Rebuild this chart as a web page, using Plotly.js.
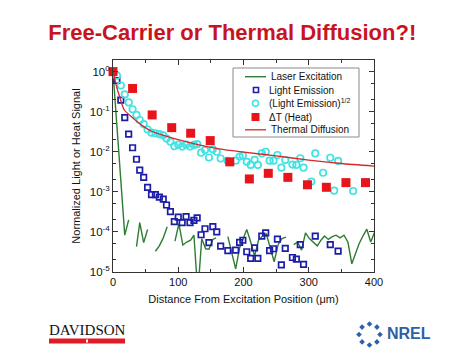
<!DOCTYPE html>
<html><head><meta charset="utf-8">
<script src="https://cdn.plot.ly/plotly-3.0.1.min.js"></script>
<style>html,body{margin:0;padding:0;background:#fff}</style>
</head><body><div id="chart" style="width:474px;height:355px"></div>
<script>
// ---- data ----
const laserX = [0,6,12,18,24,30,36,41,47,53,59,65,71,77,83,89,95,101,107,113,119,124,130,136,142,147,153,158,164,170,176,182,188,194,199,205,211,217,223,229,235,241,247,253,259,265,271,277,283,289,295,301,307,313,319,324,330,336,342,348,354,360,366,372,377,383,389,395,401];
const laserY = [1,0.045,0.002,8.3e-5,2.0e-4,null,4.3e-5,1.7e-4,5.4e-5,1.15e-4,null,3.3e-5,4.5e-5,7.1e-5,1.35e-4,null,5.9e-5,1.6e-4,4.7e-5,5.6e-5,6.2e-5,8.3e-5,3e-6,6.8e-5,3.8e-5,3.7e-5,6.5e-5,7.1e-5,null,null,7.6e-5,3.2e-5,1.2e-5,4.0e-5,6.3e-5,1.15e-4,5.6e-5,2.5e-5,6.2e-5,7.9e-5,8.9e-5,3.8e-5,1.8e-5,4.8e-5,6.8e-5,7.4e-5,null,4.8e-5,5.6e-5,3.5e-5,9.5e-5,6.8e-5,5.6e-5,4.5e-5,6.3e-5,7.9e-5,6.5e-5,7.6e-5,8.3e-5,7.1e-5,8.3e-5,5.6e-5,1.6e-5,3.2e-5,5.0e-5,7.9e-5,1.17e-4,5.6e-5,1.0e-4];

const lightX = [0,6,12,18,24,30,36,41,47,53,59,65,71,77,82,88,94,100,106,112,118,124,129,135,141,147,153,159,165,176,188,194,199,205,211,217,222,228,234,240,246,252,258,264,275,281,287,292,310,333,345];
const lightY = [1,0.6,0.195,0.071,0.0275,0.0126,0.0065,0.0035,0.0023,0.0013,8.5e-4,8.5e-4,7.4e-4,6.6e-4,4.7e-4,3.2e-4,1.8e-4,2.35e-4,1.7e-4,2.4e-4,1.7e-4,1.95e-4,2.25e-4,8.5e-5,1.2e-4,5.4e-5,1.35e-4,1.0e-4,4.4e-5,3.4e-5,3.5e-5,5.5e-5,6.2e-5,3.2e-5,2.2e-5,4.0e-5,2.2e-5,7.9e-5,9.5e-5,3.4e-5,3.8e-5,6.6e-5,1.5e-5,3.9e-5,2.3e-5,2.1e-5,4.8e-5,1.55e-5,7.9e-5,4.8e-5,3.3e-5];

const sqrtX = [6,12,18,24,30,36,41,47,53,59,65,71,77,82,88,94,100,106,112,118,124,129,135,141,147,153,159,165,176,188,194,199,205,211,217,222,228,234,240,246,252,258,264,275,281,287,292,304,310,322,333,339,345,368];
const sqrtY = [0.79,0.45,0.27,0.17,0.115,0.083,0.062,0.049,0.036,0.030,0.029,0.0275,0.0257,0.0214,0.0178,0.0138,0.0151,0.0135,0.0151,0.0135,0.0148,0.0155,0.0095,0.011,0.0072,0.0115,0.010,0.0068,0.0059,0.006,0.0076,0.0081,0.0056,0.0047,0.0063,0.0047,0.0091,0.010,0.006,0.006,0.0083,0.004,0.0062,0.0048,0.0047,0.0069,0.004,0.0018,0.0091,0.003,0.0071,0.00107,0.0059,0.00105];

const heatX = [0,30,60,90,119,149,179,209,238,268,298,327,357,387];
const heatY = [1.0,0.38,0.083,0.04,0.029,0.019,0.0056,0.0021,0.0029,0.0023,0.0015,0.0013,0.0017,0.0017];

const diffX = [1,3,5,10,17,30,45,60,80,100,130,160,200,250,300,350,400];
const diffY = [1,0.63,0.45,0.24,0.112,0.071,0.045,0.032,0.025,0.02,0.015,0.012,0.0098,0.0079,0.0062,0.0051,0.0044];

const seriesNames = ['Laser Excitation','Light Emission','(Light Emission)<sup>1/2</sup>','\u0394T (Heat)','Thermal Diffusion'];
const xTickVals = [0,100,200,300,400];
const yTickVals = [1,0.1,0.01,0.001,0.0001,0.00001];
const yTickText = ['10<sup>0</sup>','10<sup>-1</sup>','10<sup>-2</sup>','10<sup>-3</sup>','10<sup>-4</sup>','10<sup>-5</sup>'];

// ---- styling ----
const C = {green:'#2e7d32', blue:'#1c1ca8', cyan:'#3fe3e3', red:'#e8141c', line:'#d42a2a'};
const FONT = 'Liberation Sans, Arial, sans-serif';
const L=113, R=374, T=60, B=272;
const px = v => (v-L)/(R-L);
const py = v => (B-v)/(B-T);

const traces = [
  {x:laserX, y:laserY, mode:'lines', name:seriesNames[0], line:{color:C.green, width:1.4}, connectgaps:false},
  {x:lightX, y:lightY, mode:'markers', name:seriesNames[1], cliponaxis:false,
   marker:{symbol:'square-open', size:5.5, color:C.blue, line:{width:1.7, color:C.blue}}},
  {x:sqrtX, y:sqrtY, mode:'markers', name:seriesNames[2], cliponaxis:false,
   marker:{symbol:'circle-open', size:6.5, color:C.cyan, line:{width:1.7, color:C.cyan}}},
  {x:heatX, y:heatY, mode:'markers', name:seriesNames[3], cliponaxis:false,
   marker:{symbol:'square', size:9, color:C.red, line:{width:0}}},
  {x:diffX, y:diffY, mode:'lines', name:seriesNames[4], line:{color:C.line, width:1.3, shape:'spline', smoothing:0.6}}
];

// manual legend (decoration)
const lgRowsY = [76.7, 90, 103.3, 117, 129.8];
const shapes = [
  {type:'rect', xref:'paper', yref:'paper', x0:px(233), x1:px(359), y0:py(68), y1:py(137), line:{color:'#8a8a8a', width:1}, fillcolor:'rgba(255,255,255,0)'},
  {type:'line', xref:'paper', yref:'paper', x0:px(245), x1:px(266), y0:py(lgRowsY[0]), y1:py(lgRowsY[0]), line:{color:C.green, width:1.4}},
  {type:'rect', xref:'paper', yref:'paper', x0:px(253.5), x1:px(258.5), y0:py(lgRowsY[1]+2.5), y1:py(lgRowsY[1]-2.5), line:{color:C.blue, width:1.6}},
  {type:'circle', xref:'paper', yref:'paper', x0:px(252.5), x1:px(258.5), y0:py(lgRowsY[2]+3), y1:py(lgRowsY[2]-3), line:{color:C.cyan, width:1.6}},
  {type:'rect', xref:'paper', yref:'paper', x0:px(251.5), x1:px(259.5), y0:py(lgRowsY[3]+4), y1:py(lgRowsY[3]-4), fillcolor:C.red, line:{width:0}},
  {type:'line', xref:'paper', yref:'paper', x0:px(245), x1:px(266), y0:py(lgRowsY[4]), y1:py(lgRowsY[4]), line:{color:C.line, width:1.3}},
  // Davidson logo bar
  {type:'rect', xref:'paper', yref:'paper', x0:px(49), x1:px(125), y0:py(343.5), y1:py(338.5), fillcolor:'#e01b24', line:{width:0}},
  {type:'rect', xref:'paper', yref:'paper', x0:px(86), x1:px(88), y0:py(342.5), y1:py(339.5), fillcolor:'#ffffff', line:{width:0}}
];
// NREL logo ring of diamonds (decoration)
for (let k=0;k<8;k++){
  const a = k*Math.PI/4, cx = 369.5+10.5*Math.cos(a), cy = 334.5-10.5*Math.sin(a), h = 2.8;
  shapes.push({type:'path', xref:'paper', yref:'paper',
    path:`M ${px(cx)},${py(cy-h)} L ${px(cx+h)},${py(cy)} L ${px(cx)},${py(cy+h)} L ${px(cx-h)},${py(cy)} Z`,
    fillcolor:'#2f5fa8', line:{width:0}});
}
const lgTextX = [269, 266.7, 266.7, 266.7, 269];
const annotations = seriesNames.map((t,i)=>({
  text:t, xref:'paper', yref:'paper', x:px(lgTextX[i]), y:py(lgRowsY[i]), xanchor:'left', yanchor:'middle',
  showarrow:false, font:{family:FONT, size:10, color:'#111'}
}));
annotations.push({text:'DAVIDSON', xref:'paper', yref:'paper', x:px(87), y:py(330), xanchor:'center', yanchor:'middle',
  showarrow:false, font:{family:'Liberation Serif, Times New Roman, serif', size:15, color:'#111'}});
annotations.push({text:'<b>NREL</b>', xref:'paper', yref:'paper', x:px(385), y:py(333.5), xanchor:'left', yanchor:'middle',
  showarrow:false, font:{family:FONT, size:16, color:'#2f5fa8'}});

const layout = {
  width:474, height:355,
  margin:{l:L, r:474-R, t:T, b:355-B, pad:0},
  paper_bgcolor:'#ffffff', plot_bgcolor:'#ffffff',
  showlegend:false,
  font:{family:FONT, size:11, color:'#111'},
  title:{text:'<b>Free-Carrier or Thermal Diffusion?!</b>', xref:'container', yref:'container', x:0.49, xanchor:'center', y:1-32/355, yanchor:'middle',
    font:{family:FONT, size:22, color:'#c8141e'}},
  xaxis:{range:[0,400], tickmode:'array', tickvals:xTickVals, ticks:'inside', ticklen:5, tickcolor:'#333',
    mirror:'allticks', showline:true, linecolor:'#333', linewidth:1, showgrid:false, zeroline:false,
    minor:{ticks:'inside', ticklen:3, tickcolor:'#333', dtick:50},
    tickfont:{family:FONT, size:11, color:'#111'},
    title:{text:'Distance From Excitation Position (\u03BCm)', font:{family:FONT, size:11, color:'#111'}, standoff:8}},
  yaxis:{type:'log', range:[-5, 0.29], tickmode:'array', tickvals:yTickVals, ticktext:yTickText, ticks:'inside', ticklen:5, tickcolor:'#333',
    mirror:'allticks', showline:true, linecolor:'#333', linewidth:1, showgrid:false, zeroline:false,
    minor:{ticks:'inside', ticklen:3, tickcolor:'#333', dtick:'D2'},
    tickfont:{family:FONT, size:11.5, color:'#111'},
    title:{text:'Normalized Light or Heat Signal', font:{family:FONT, size:11, color:'#111'}, standoff:6}},
  shapes:shapes, annotations:annotations
};
Plotly.newPlot('chart', traces, layout, {staticPlot:true, displayModeBar:false});
</script></body></html>
